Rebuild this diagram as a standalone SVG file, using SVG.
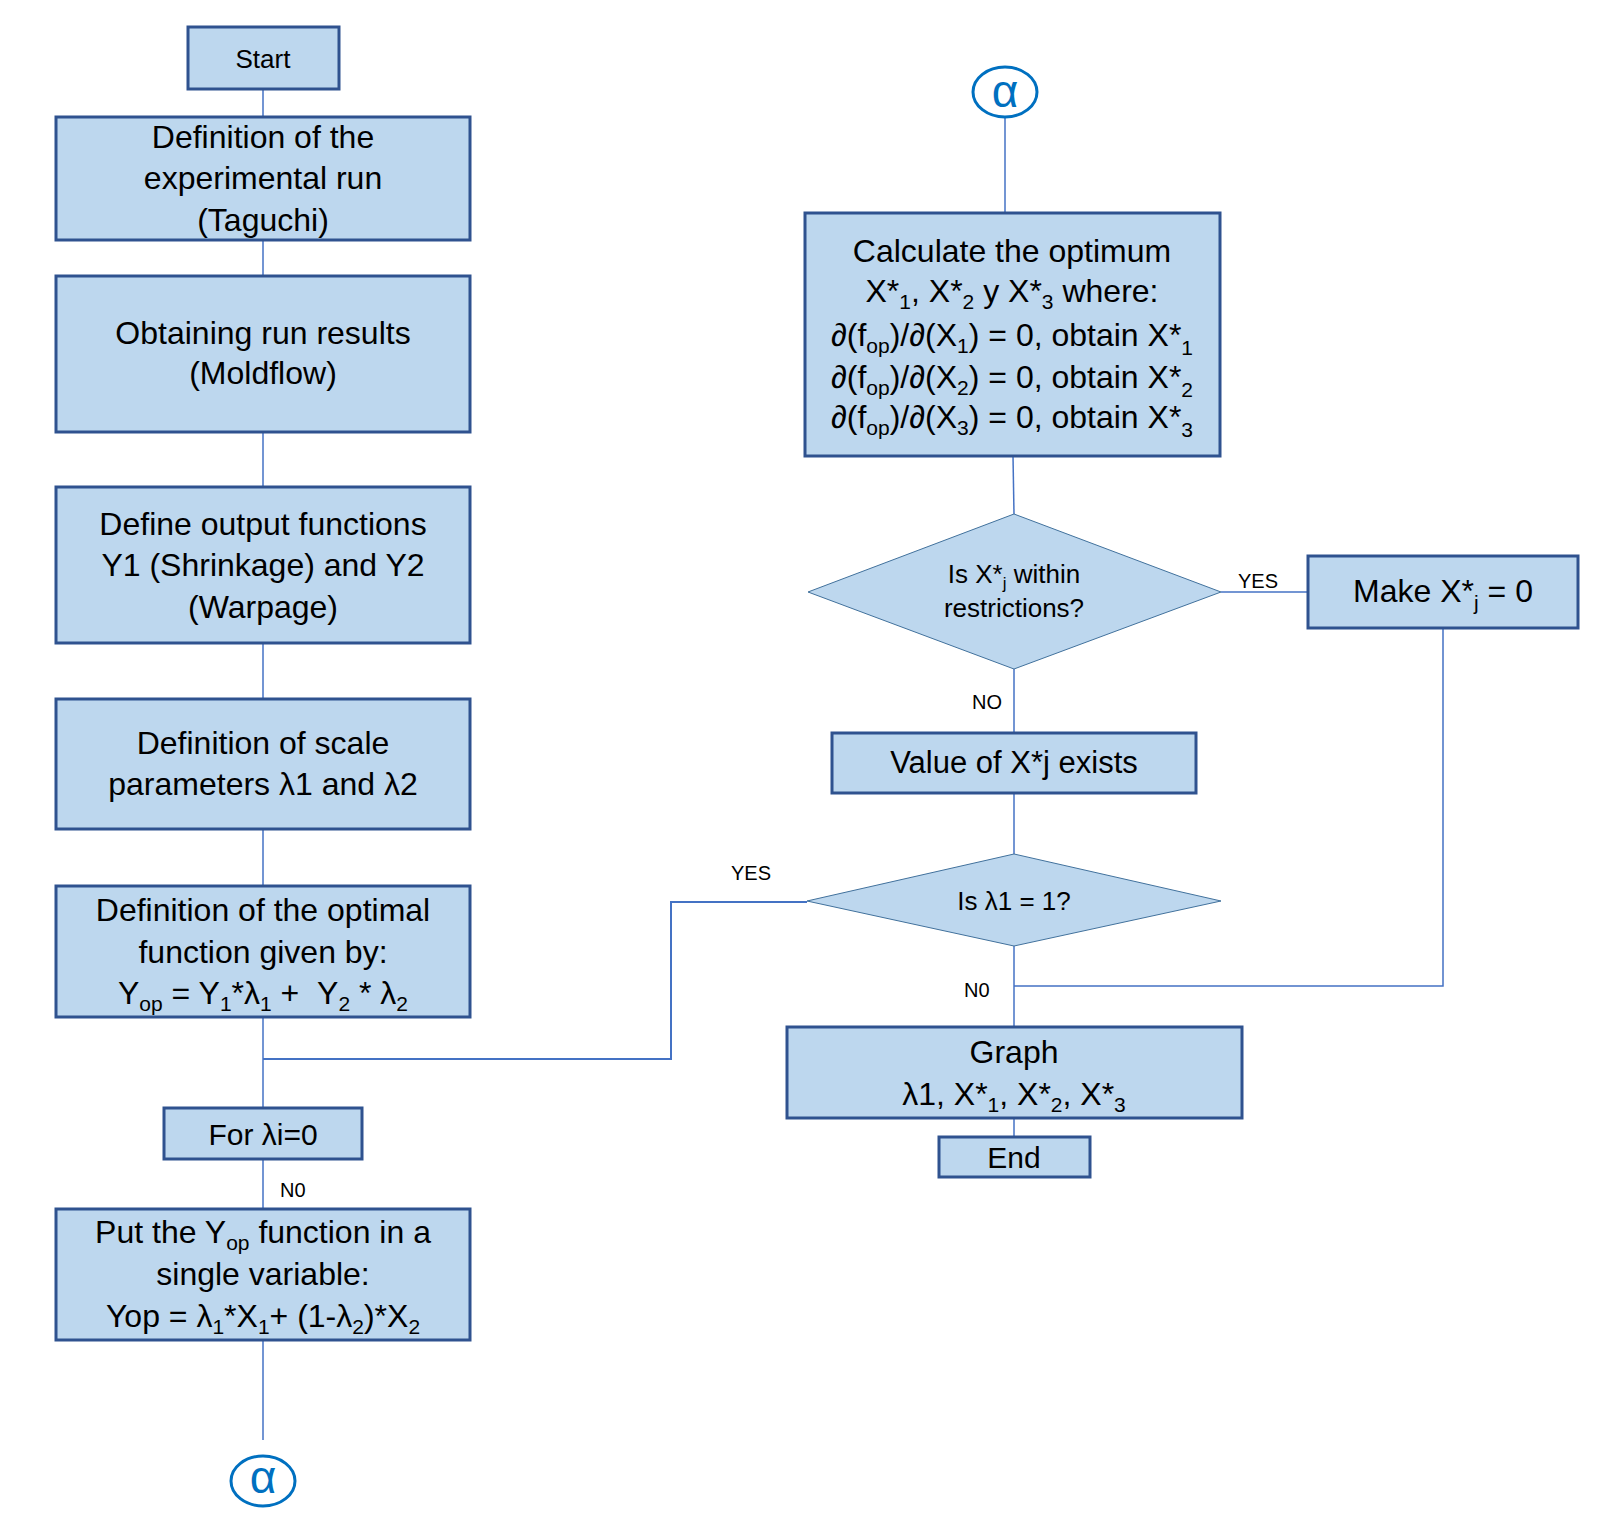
<svg xmlns="http://www.w3.org/2000/svg" width="1601" height="1532" viewBox="0 0 1601 1532">
<style>
.box{fill:#bdd7ee;stroke:#2f528f;stroke-width:3}
.dia{fill:#bdd7ee;stroke:#41719c;stroke-width:1}
.t{font-family:"Liberation Sans",Arial,sans-serif;font-size:32px;fill:#000;text-anchor:middle}
.s{font-family:"Liberation Sans",Arial,sans-serif;font-size:26px;fill:#000;text-anchor:middle}
.lbl{font-family:"Liberation Sans",Arial,sans-serif;font-size:20px;fill:#000}
.conn{fill:none;stroke:#4472c4;stroke-width:1.5}
.alpha{fill:#fff;stroke:#0070c0;stroke-width:3}
.at{font-family:"Liberation Sans",Arial,sans-serif;font-size:46px;fill:#0070c0;text-anchor:middle}
</style>
<rect width="1601" height="1532" fill="#fff"/>
<g id="connectors">
<line class="conn" x1="263" y1="89" x2="263" y2="117"/>
<line class="conn" x1="263" y1="240" x2="263" y2="276"/>
<line class="conn" x1="263" y1="432" x2="263" y2="487"/>
<line class="conn" x1="263" y1="643" x2="263" y2="699"/>
<line class="conn" x1="263" y1="829" x2="263" y2="886"/>
<line class="conn" x1="263" y1="1017" x2="263" y2="1108"/>
<line class="conn" x1="263" y1="1159" x2="263" y2="1209"/>
<line class="conn" x1="263" y1="1340" x2="263" y2="1440"/>
<polyline class="conn" style="stroke-width:2" points="263,1059 671,1059 671,902 807,902"/>
<line class="conn" x1="1005" y1="117" x2="1005" y2="213"/>
<line class="conn" x1="1013" y1="456" x2="1014" y2="514"/>
<line class="conn" x1="1221" y1="592" x2="1308" y2="592"/>
<line class="conn" x1="1014" y1="669" x2="1014" y2="733"/>
<line class="conn" x1="1014" y1="793" x2="1014" y2="854"/>
<line class="conn" x1="1014" y1="946" x2="1014" y2="1027"/>
<polyline class="conn" points="1443,628 1443,986 1014,986"/>
<line class="conn" x1="1014" y1="1118" x2="1014" y2="1137"/>
<text class="lbl" x="1238" y="588">YES</text>
<text class="lbl" x="972" y="709">NO</text>
<text class="lbl" x="731" y="880">YES</text>
<text class="lbl" x="964" y="997">N0</text>
<text class="lbl" x="280" y="1197">N0</text>
</g>
<g id="start">
<rect class="box" x="188" y="27" width="151" height="62"/>
<text class="t" style="font-size:26px" x="263" y="68">Start</text>
</g>
<g id="experimental-run">
<rect class="box" x="56" y="117" width="414" height="123"/>
<text class="t" x="263" y="148">Definition of the</text>
<text class="t" x="263" y="189">experimental run</text>
<text class="t" x="263" y="231">(Taguchi)</text>
</g>
<g id="run-results">
<rect class="box" x="56" y="276" width="414" height="156"/>
<text class="t" x="263" y="344">Obtaining run results</text>
<text class="t" x="263" y="384">(Moldflow)</text>
</g>
<g id="output-functions">
<rect class="box" x="56" y="487" width="414" height="156"/>
<text class="t" x="263" y="535">Define output functions</text>
<text class="t" x="263" y="576">Y1 (Shrinkage) and Y2</text>
<text class="t" x="263" y="618">(Warpage)</text>
</g>
<g id="scale-parameters">
<rect class="box" x="56" y="699" width="414" height="130"/>
<text class="t" x="263" y="754">Definition of scale</text>
<text class="t" x="263" y="795">parameters λ1 and λ2</text>
</g>
<g id="optimal-function">
<rect class="box" x="56" y="886" width="414" height="131"/>
<text class="t" x="263" y="921">Definition of the optimal</text>
<text class="t" x="263" y="963">function given by:</text>
<text class="t" x="263" y="1004" xml:space="preserve">Y<tspan font-size="21" dy="7">op</tspan><tspan dy="-7"> = Y</tspan><tspan font-size="21" dy="7">1</tspan><tspan dy="-7">*λ</tspan><tspan font-size="21" dy="7">1</tspan><tspan dy="-7"> +  Y</tspan><tspan font-size="21" dy="7">2</tspan><tspan dy="-7"> * λ</tspan><tspan font-size="21" dy="7">2</tspan></text>
</g>
<g id="for-lambda">
<rect class="box" x="164" y="1108" width="198" height="51"/>
<text class="t" style="font-size:30px" x="263" y="1145">For λi=0</text>
</g>
<g id="single-variable">
<rect class="box" x="56" y="1209" width="414" height="131"/>
<text class="t" x="263" y="1243">Put the Y<tspan font-size="21" dy="7">op</tspan><tspan dy="-7"> function in a</tspan></text>
<text class="t" x="263" y="1285">single variable:</text>
<text class="t" x="263" y="1327">Yop = λ<tspan font-size="21" dy="7">1</tspan><tspan dy="-7">*X</tspan><tspan font-size="21" dy="7">1</tspan><tspan dy="-7">+ (1-λ</tspan><tspan font-size="21" dy="7">2</tspan><tspan dy="-7">)*X</tspan><tspan font-size="21" dy="7">2</tspan></text>
</g>
<g id="alpha-out">
<ellipse class="alpha" cx="263" cy="1481" rx="32" ry="25"/>
<text class="at" x="263" y="1493">α</text>
</g>
<g id="alpha-in">
<ellipse class="alpha" cx="1005" cy="92" rx="32" ry="25"/>
<text class="at" x="1005" y="107">α</text>
</g>
<g id="calculate-optimum">
<rect class="box" x="805" y="213" width="415" height="243"/>
<text class="t" x="1012" y="262">Calculate the optimum</text>
<text class="t" x="1012" y="302">X*<tspan font-size="21" dy="7">1</tspan><tspan dy="-7">, X*</tspan><tspan font-size="21" dy="7">2</tspan><tspan dy="-7"> y X*</tspan><tspan font-size="21" dy="7">3</tspan><tspan dy="-7"> where:</tspan></text>
<text class="t" x="1012" y="346">∂(f<tspan font-size="21" dy="7">op</tspan><tspan dy="-7">)/∂(X</tspan><tspan font-size="21" dy="7">1</tspan><tspan dy="-7">) = 0, obtain X*</tspan><tspan font-size="21" dy="9">1</tspan></text>
<text class="t" x="1012" y="388">∂(f<tspan font-size="21" dy="7">op</tspan><tspan dy="-7">)/∂(X</tspan><tspan font-size="21" dy="7">2</tspan><tspan dy="-7">) = 0, obtain X*</tspan><tspan font-size="21" dy="9">2</tspan></text>
<text class="t" x="1012" y="428">∂(f<tspan font-size="21" dy="7">op</tspan><tspan dy="-7">)/∂(X</tspan><tspan font-size="21" dy="7">3</tspan><tspan dy="-7">) = 0, obtain X*</tspan><tspan font-size="21" dy="9">3</tspan></text>
</g>
<g id="within-restrictions">
<polygon class="dia" points="1014,514 1221,592 1014,669 808,592"/>
<text class="s" x="1014" y="583">Is X*<tspan font-size="17" dy="6">j</tspan><tspan dy="-6"> within</tspan></text>
<text class="s" x="1014" y="617">restrictions?</text>
</g>
<g id="make-zero">
<rect class="box" x="1308" y="556" width="270" height="72"/>
<text class="t" x="1443" y="602">Make X*<tspan font-size="21" dy="8">j</tspan><tspan dy="-8"> = 0</tspan></text>
</g>
<g id="value-exists">
<rect class="box" x="832" y="733" width="364" height="60"/>
<text class="t" style="font-size:31px" x="1014" y="773">Value of X*j exists</text>
</g>
<g id="lambda-one">
<polygon class="dia" points="1014,854 1221,901 1014,946 807,901"/>
<text class="s" x="1014" y="910">Is λ1 = 1?</text>
</g>
<g id="graph">
<rect class="box" x="787" y="1027" width="455" height="91"/>
<text class="t" x="1014" y="1063">Graph</text>
<text class="t" x="1014" y="1105">λ1, X*<tspan font-size="21" dy="7">1</tspan><tspan dy="-7">, X*</tspan><tspan font-size="21" dy="7">2</tspan><tspan dy="-7">, X*</tspan><tspan font-size="21" dy="7">3</tspan></text>
</g>
<g id="end">
<rect class="box" x="939" y="1137" width="151" height="40"/>
<text class="t" style="font-size:30px" x="1014" y="1168">End</text>
</g>
</svg>
